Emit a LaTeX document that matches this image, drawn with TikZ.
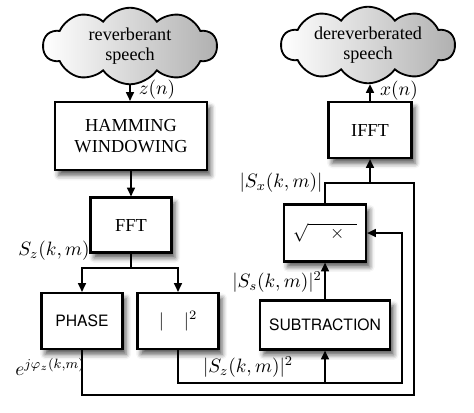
\RequirePackage{fix-cm}
\documentclass[tikz,border=0pt]{standalone}
\usepackage{fontspec}
\setmainfont{Liberation Serif}
\newfontfamily\heros{TeX Gyre Heros}
\usetikzlibrary{arrows.meta,shapes.symbols,shadows.blur}
\begin{document}
\begin{tikzpicture}[x=0.6pt,y=-0.6pt,
  line width=0.95pt,
  box/.style={draw, line width=1.35pt, fill=white, inner sep=0pt, align=center,
    blur shadow={shadow xshift=2.2pt, shadow yshift=-3.2pt, shadow blur radius=3pt, shadow opacity=65},
    font=\fontsize{11}{12.6}\selectfont},
  sansbox/.style={box, font=\heros\fontsize{9.4}{11}\selectfont},
  cloudnode/.style={cloud, draw, line width=1.1pt, cloud puffs=10, cloud puff arc=110, aspect=3.4,
    inner sep=0pt, left color=white, right color=gray!62, align=center,
    font=\fontsize{10.9}{11.8}\selectfont},
  arr/.style={-{Triangle[length=5.2pt,width=4.8pt]}},
  lbl/.style={inner sep=0pt, font=\fontsize{11.6}{13}\selectfont}]
\useasboundingbox (0,0) rectangle (474,412);

\node[cloudnode, minimum width=99.6pt, minimum height=30pt] (c1) at (130,46) {reverberant\\speech};
\node[cloudnode, minimum width=94.8pt, minimum height=31pt] (c2) at (368,45) {dereverberated\\speech};

\node[box, minimum width=91.2pt, minimum height=40.8pt] (ham) at (131,136) {HAMMING\\WINDOWING};
\node[box, minimum width=48.6pt, minimum height=33pt] (fft) at (131,225) {FFT};
\node[sansbox, minimum width=48.6pt, minimum height=33.6pt] (phase) at (82,321) {PHASE};
\node[box, minimum width=48.6pt, minimum height=33.6pt] (sq) at (178,321) {$|\hspace{1.1em}|^2$};
\node[sansbox, minimum width=78pt, minimum height=29.4pt] (sub) at (325,325) {SUBTRACTION};
\node[box, minimum width=49.2pt, minimum height=34.2pt] (sqrt) at (325,233) {$\sqrt{\hspace{1.2em}\times\hspace{0.7em}}$};
\node[box, minimum width=49.8pt, minimum height=33.6pt] (ifft) at (370,130) {IFFT};

\coordinate (j1) at (131,268);
\coordinate (top) at (414,183);
\coordinate (bot) at (414,395);
\coordinate (r1) at (402,383);

\draw[arr] (c1.south) -- (c1.south |- ham.north);
\draw[arr] (ham.south) -- (fft.north);
\draw (fft.south) -- (j1);
\draw[arr] (j1) -| (phase.north);
\draw[arr] (j1) -| (sq.north);
\draw (phase.south) |- (bot) -- (top) -- (sqrt.north |- top) -- (sqrt.north);
\draw[arr] (ifft.south |- top) -- (ifft.south);
\draw[arr] (sq.south) |- (r1) |- (sqrt.east);
\draw[arr] (sub.south |- r1) -- (sub.south);
\draw[arr] (sub.north) -- (sqrt.south);
\draw[arr] (ifft.north) -- (ifft.north |- c2.south);

\node[lbl] (lz) at (157,90) {$z(n)$};
\node[lbl] (lsz) at (54,251) {$S_z(k,m)$};
\node[lbl] (lph) at (50,367) {$e^{j\varphi_z(k,m)}$};
\node[lbl] (lmag) at (248,367) {$|S_z(k,m)|^2$};
\node[lbl] (lss) at (277,282) {$|S_s(k,m)|^2$};
\node[lbl] (lsx) at (281,183) {$|S_x(k,m)|$};
\node[lbl] (lx) at (399,91) {$x(n)$};
\end{tikzpicture}
\end{document}
